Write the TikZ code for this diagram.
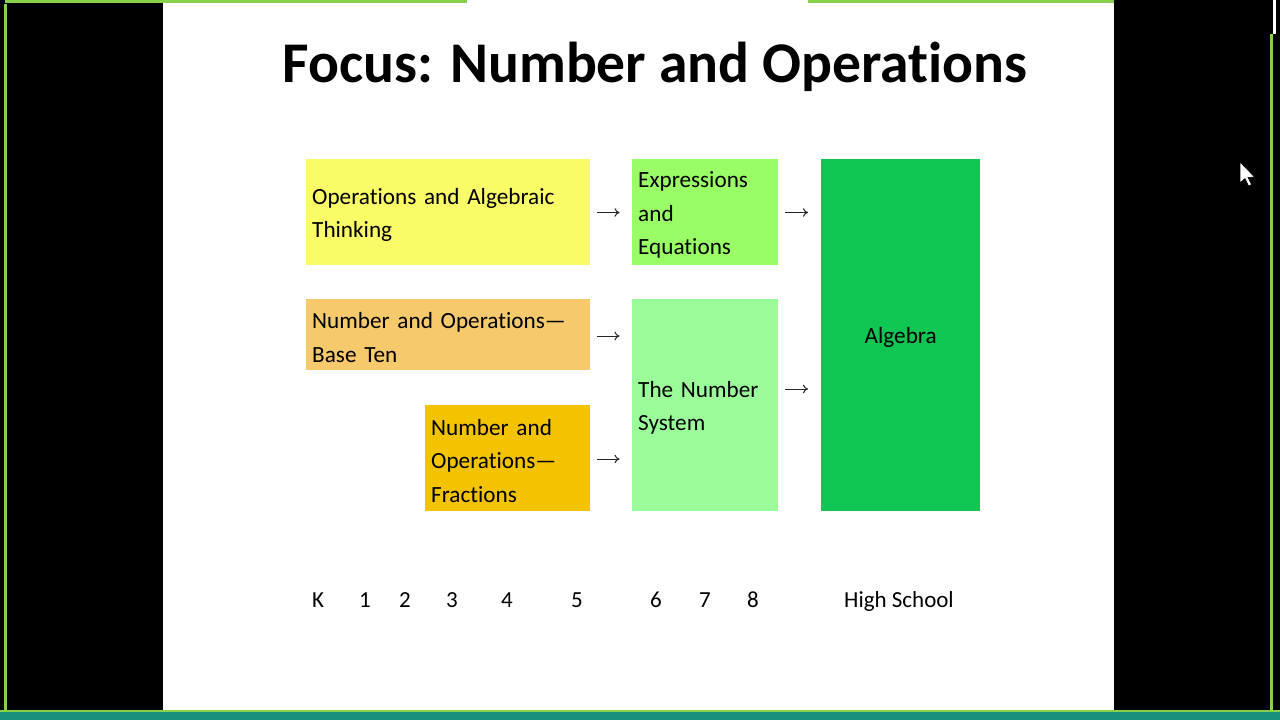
\documentclass[tikz,border=0pt]{standalone}
\usepackage{fontspec}
\setmainfont{Carlito}[Ligatures=NoCommon]
\usetikzlibrary{arrows.meta}
\definecolor{oatY}{HTML}{F9FC66}
\definecolor{eeG}{HTML}{99FD66}
\definecolor{algG}{HTML}{10C653}
\definecolor{nbtO}{HTML}{F6C96C}
\definecolor{nfO}{HTML}{F3C300}
\definecolor{nsG}{HTML}{9BFD99}
\definecolor{edgeG}{HTML}{86D24C}
\definecolor{teal}{HTML}{16907A}
\newcommand{\firstup}{\rule{0pt}{21.5pt}}
\begin{document}
\begin{tikzpicture}[x=1pt,y=-1pt,
  box/.style={anchor=north west, inner xsep=6pt, inner ysep=0pt, align=left,
    font=\fontsize{23.2}{33.3}\selectfont, text=black},
  lbl/.style={anchor=base, font=\fontsize{23}{27}\selectfont, text=black, inner sep=0pt},
  arr/.style={-{To[length=5pt,width=8.5pt]}, line width=1pt, draw=black!85}]
\useasboundingbox (0,0) rectangle (1280,720);
% screen background
\fill[black] (0,0) rectangle (1280,720);
\fill[white] (163,0) rectangle (1114,712);
\fill[edgeG] (5,0) rectangle (467,2.5);
\fill[edgeG] (808,0) rectangle (1114,2.5);
\fill[edgeG] (4,4) rectangle (6.5,712);
\fill[edgeG] (1270,34) rectangle (1272.5,712);
\fill[white] (1273,0) rectangle (1276,34);
\fill[edgeG] (0,709.5) rectangle (1280,712);
\fill[teal] (0,712) rectangle (1280,720);
% cursor
\filldraw[fill=white, draw=black, line width=0.6pt]
  (1240,162) -- (1240,183) -- (1245,178.5) -- (1248.5,186) -- (1251.5,184.5) -- (1248,177.5) -- (1254.5,177) -- cycle;
% title
\node[anchor=base, font=\bfseries\fontsize{57.6}{68}\selectfont, inner sep=0pt] (title) at (655,82) {Focus: Number and Operations};
% boxes
\node[box, fill=oatY, text width=272pt, minimum height=106pt] (oat) at (306,159) {\firstup Operations and Algebraic\\Thinking};
\node[box, fill=eeG, text width=134pt, minimum height=106pt] (ee) at (632,159) {\firstup Expressions\\and\\Equations};
\node[box, fill=algG, text width=147pt, minimum height=352pt, align=center] (alg) at (821,159) {\firstup Algebra};
\node[box, fill=nbtO, text width=272pt, minimum height=71pt] (nbt) at (306,299) {\firstup Number and Operations---\\Base Ten};
\node[box, fill=nfO, text width=153pt, minimum height=106pt] (nf) at (425,405) {\firstup Number and\\Operations---\\Fractions};
\node[box, fill=nsG, text width=134pt, minimum height=212pt] (ns) at (632,299) {\firstup The Number\\System};
% arrows
\draw[arr, shorten <=7pt, shorten >=12.5pt] (oat.east |- 0,212.5) -- (ee.west |- 0,212.5);
\draw[arr, shorten <=7pt, shorten >=12.5pt] (nbt.east |- 0,336) -- (ns.west |- 0,336);
\draw[arr, shorten <=7pt, shorten >=12.5pt] (nf.east |- 0,459) -- (ns.west |- 0,459);
\draw[arr, shorten <=7pt, shorten >=13pt] (ee.east |- 0,212.5) -- (alg.west |- 0,212.5);
\draw[arr, shorten <=7pt, shorten >=13pt] (ns.east |- 0,389) -- (alg.west |- 0,389);
% grade labels
\node[lbl] (gK) at (318,607) {K};
\node[lbl] (g1) at (365,607) {1};
\node[lbl] (g2) at (405,607) {2};
\node[lbl] (g3) at (452,607) {3};
\node[lbl] (g4) at (507,607) {4};
\node[lbl] (g5) at (577,607) {5};
\node[lbl] (g6) at (656,607) {6};
\node[lbl] (g7) at (705,607) {7};
\node[lbl] (g8) at (753,607) {8};
\node[lbl] (ghs) at (899,607) {High School};
\end{tikzpicture}
\end{document}
